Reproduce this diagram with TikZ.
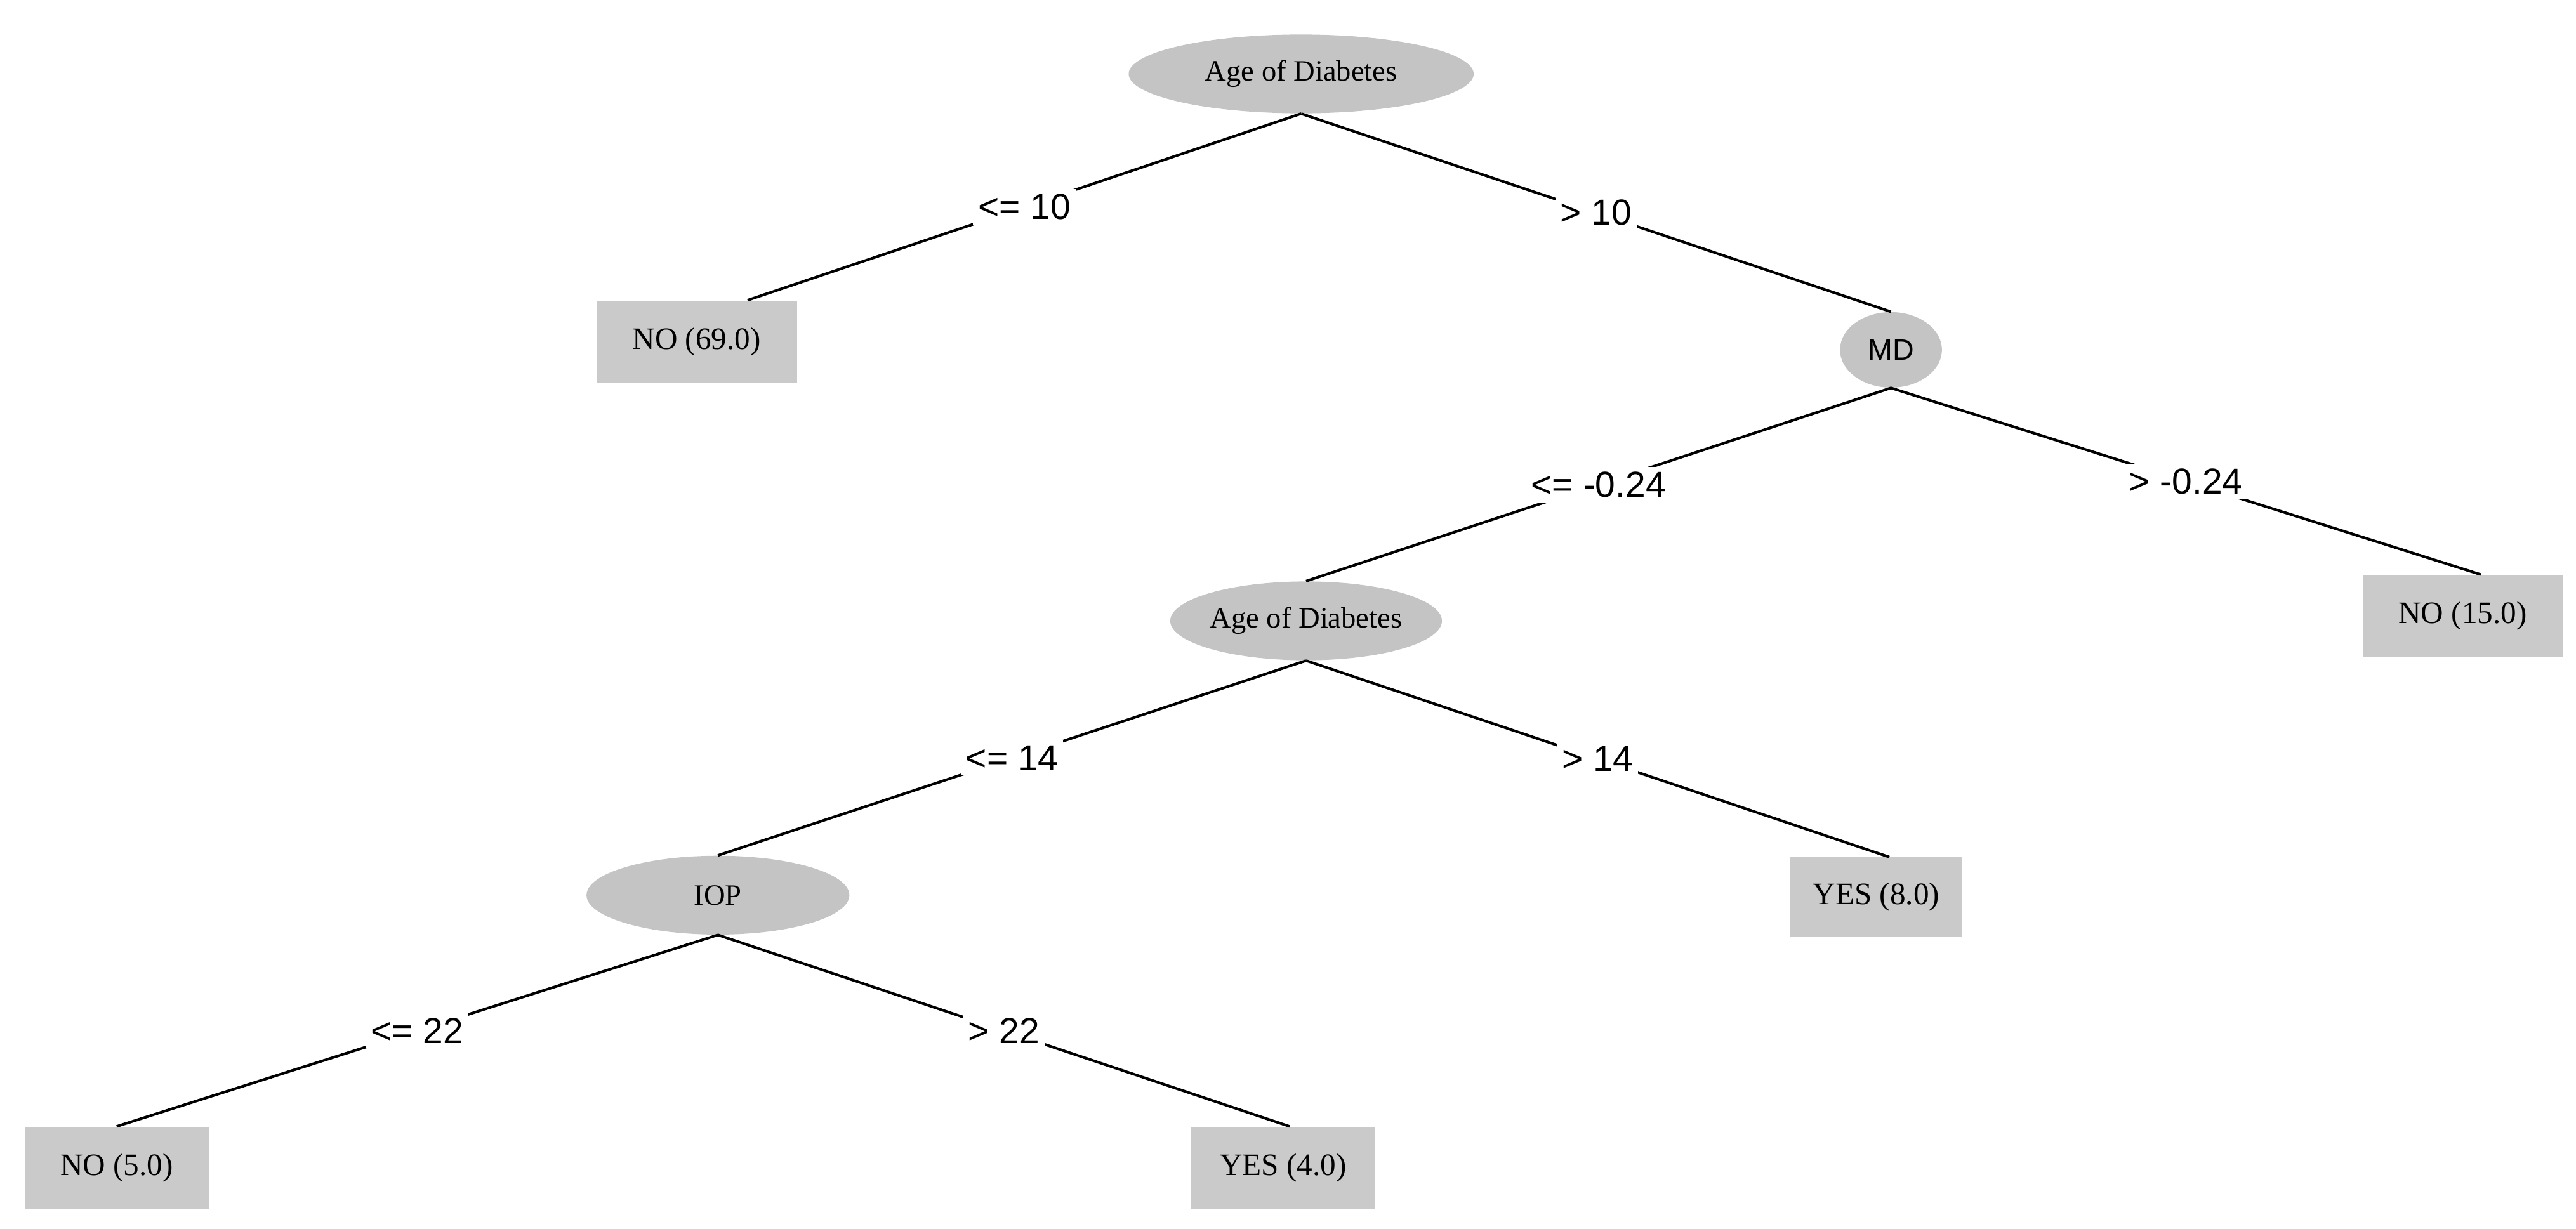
\documentclass[tikz,border=0pt]{standalone}
\usepackage{fontspec}
\setmainfont{Liberation Serif}
\newfontfamily\arialf{Liberation Sans}
\usetikzlibrary{shapes.geometric,calc}
\definecolor{nodegray}{HTML}{C4C4C4}
\definecolor{boxgray}{HTML}{CACACA}
\definecolor{shade}{HTML}{8E8E8E}
\begin{document}
\begin{tikzpicture}[x=1pt,y=-1pt,
  split/.style={ellipse,fill=nodegray,inner sep=0pt,font=\fontsize{18}{20}\selectfont},
  leaf/.style={rectangle,fill=boxgray,inner sep=0pt,font=\fontsize{19}{21}\selectfont,
    append after command={[shade,line width=2.5pt]
      (\tikzlastnode.north east) -- (\tikzlastnode.south east) -- (\tikzlastnode.south west)}},
  lab/.style={fill=white,inner sep=3pt,font=\arialf\fontsize{22}{24}\selectfont},
  edge/.style={line width=1.6pt}]
\useasboundingbox (0,0) rectangle (1568,748);
\node[split,minimum width=210,minimum height=48] (root) at (792,45) {Age of Diabetes};
\node[leaf,minimum width=122,minimum height=50] (l1) at (424,208) {NO (69.0)};
\node[split,minimum width=62,minimum height=46] (md) at (1151,213) {\arialf MD};
\node[leaf,minimum width=122,minimum height=50] (l2) at (1499,375) {NO (15.0)};
\node[split,minimum width=160,minimum height=48] (age2) at (795,378) {Age of Diabetes};
\node[leaf,minimum width=105,minimum height=48] (l3) at (1142,546) {YES (8.0)};
\node[split,minimum width=160,minimum height=48] (iop) at (437,545) {IOP};
\node[leaf,minimum width=112,minimum height=50] (l4) at (71,711) {NO (5.0)};
\node[leaf,minimum width=112,minimum height=50] (l5) at (781,711) {YES (4.0)};

\draw[edge] (root.south) -- node[lab]{<= 10} ($(l1.north)+(31,0)$);
\draw[edge] (root.south) -- node[lab]{> 10} (md.north);
\draw[edge] (md.south) -- node[lab]{<= -0.24} (age2.north);
\draw[edge] (md.south) -- node[lab]{> -0.24} ($(l2.north)+(11,0)$);
\draw[edge] (age2.south) -- node[lab]{<= 14} (iop.north);
\draw[edge] (age2.south) -- node[lab]{> 14} ($(l3.north)+(8,0)$);
\draw[edge] (iop.south) -- node[lab]{<= 22} (l4.north);
\draw[edge] (iop.south) -- node[lab]{> 22} ($(l5.north)+(4,0)$);
\end{tikzpicture}
\end{document}
